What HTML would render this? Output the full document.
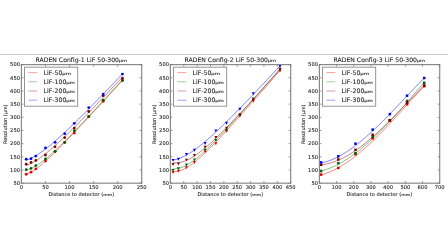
<!DOCTYPE html>
<html><head><meta charset="utf-8"><style>html,body{margin:0;padding:0;width:448px;height:252px;overflow:hidden;background:#fff}</style></head>
<body>
<svg width="448" height="252" viewBox="0 0 448 252" style="position:absolute;left:0;top:0">
<rect x="0" y="0" width="448" height="252" fill="#fff"/>
<g>
<rect x="0" y="54" width="448" height="1" fill="#cfcfcf"/>
<polyline points="26.21,174.15 27.84,173.54 29.47,172.82 31.11,171.97 32.74,171.02 34.37,169.99 36.00,168.87 37.63,167.67 39.26,166.42 40.89,165.10 42.52,163.74 44.16,162.34 45.79,160.90 47.42,159.42 49.05,157.92 50.68,156.38 52.31,154.83 53.94,153.25 55.57,151.66 57.20,150.04 58.84,148.42 60.47,146.78 62.10,145.12 63.73,143.46 65.36,141.79 66.99,140.10 68.62,138.41 70.25,136.71 71.89,135.01 73.52,133.29 75.15,131.57 76.78,129.85 78.41,128.12 80.04,126.38 81.67,124.65 83.30,122.90 84.93,121.16 86.57,119.41 88.20,117.65 89.83,115.90 91.46,114.14 93.09,112.38 94.72,110.61 96.35,108.84 97.98,107.07 99.62,105.30 101.25,103.53 102.88,101.75 104.51,99.98 106.14,98.20 107.77,96.42 109.40,94.64 111.03,92.85 112.66,91.07 114.30,89.28 115.93,87.50 117.56,85.71 119.19,83.92 120.82,82.13 122.45,80.34" fill="none" stroke="#ff0000" stroke-width="0.5"/>
<polyline points="26.21,170.08 27.84,169.64 29.47,169.09 31.11,168.42 32.74,167.65 34.37,166.79 36.00,165.85 37.63,164.82 39.26,163.72 40.89,162.56 42.52,161.35 44.16,160.08 45.79,158.76 47.42,157.40 49.05,156.01 50.68,154.58 52.31,153.11 53.94,151.63 55.57,150.11 57.20,148.58 58.84,147.02 60.47,145.45 62.10,143.86 63.73,142.25 65.36,140.63 66.99,139.00 68.62,137.35 70.25,135.70 71.89,134.03 73.52,132.35 75.15,130.67 76.78,128.98 78.41,127.28 80.04,125.57 81.67,123.86 83.30,122.15 84.93,120.42 86.57,118.69 88.20,116.96 89.83,115.22 91.46,113.48 93.09,111.74 94.72,109.99 96.35,108.23 97.98,106.48 99.62,104.72 101.25,102.96 102.88,101.19 104.51,99.42 106.14,97.66 107.77,95.88 109.40,94.11 111.03,92.33 112.66,90.55 114.30,88.77 115.93,86.99 117.56,85.21 119.19,83.42 120.82,81.64 122.45,79.85" fill="none" stroke="#008000" stroke-width="0.5"/>
<polyline points="26.21,165.48 27.84,164.88 29.47,164.18 31.11,163.40 32.74,162.55 34.37,161.62 36.00,160.62 37.63,159.57 39.26,158.46 40.89,157.30 42.52,156.09 44.16,154.84 45.79,153.55 47.42,152.22 49.05,150.86 50.68,149.47 52.31,148.06 53.94,146.62 55.57,145.16 57.20,143.68 58.84,142.17 60.47,140.65 62.10,139.12 63.73,137.57 65.36,136.01 66.99,134.43 68.62,132.84 70.25,131.24 71.89,129.63 73.52,128.01 75.15,126.39 76.78,124.75 78.41,123.11 80.04,121.46 81.67,119.80 83.30,118.14 84.93,116.47 86.57,114.80 88.20,113.12 89.83,111.43 91.46,109.74 93.09,108.05 94.72,106.35 96.35,104.65 97.98,102.95 99.62,101.24 101.25,99.53 102.88,97.82 104.51,96.10 106.14,94.38 107.77,92.66 109.40,90.93 111.03,89.20 112.66,87.47 114.30,85.74 115.93,84.01 117.56,82.27 119.19,80.54 120.82,78.80 122.45,77.06" fill="none" stroke="#8b0000" stroke-width="0.5"/>
<polyline points="26.21,160.27 27.84,159.66 29.47,158.97 31.11,158.21 32.74,157.38 34.37,156.49 36.00,155.54 37.63,154.53 39.26,153.47 40.89,152.36 42.52,151.21 44.16,150.01 45.79,148.78 47.42,147.51 49.05,146.21 50.68,144.88 52.31,143.53 53.94,142.14 55.57,140.73 57.20,139.30 58.84,137.85 60.47,136.39 62.10,134.90 63.73,133.40 65.36,131.88 66.99,130.35 68.62,128.80 70.25,127.24 71.89,125.67 73.52,124.09 75.15,122.50 76.78,120.90 78.41,119.30 80.04,117.68 81.67,116.06 83.30,114.42 84.93,112.79 86.57,111.14 88.20,109.49 89.83,107.83 91.46,106.17 93.09,104.50 94.72,102.83 96.35,101.15 97.98,99.47 99.62,97.79 101.25,96.10 102.88,94.40 104.51,92.71 106.14,91.01 107.77,89.30 109.40,87.59 111.03,85.89 112.66,84.17 114.30,82.46 115.93,80.74 117.56,79.02 119.19,77.30 120.82,75.57 122.45,73.85" fill="none" stroke="#0000ff" stroke-width="0.5"/>
<circle cx="26.21" cy="174.24" r="1.4" fill="#e00000"/>
<circle cx="31.02" cy="172.13" r="1.4" fill="#e00000"/>
<circle cx="35.84" cy="168.97" r="1.4" fill="#e00000"/>
<circle cx="45.46" cy="161.06" r="1.4" fill="#e00000"/>
<circle cx="55.08" cy="151.57" r="1.4" fill="#e00000"/>
<circle cx="64.71" cy="142.61" r="1.4" fill="#e00000"/>
<circle cx="74.33" cy="133.12" r="1.4" fill="#e00000"/>
<circle cx="88.77" cy="116.78" r="1.4" fill="#e00000"/>
<circle cx="103.20" cy="101.23" r="1.4" fill="#e00000"/>
<circle cx="122.45" cy="80.41" r="1.4" fill="#e00000"/>
<circle cx="26.21" cy="169.63" r="1.4" fill="#006000"/>
<circle cx="31.02" cy="168.44" r="1.4" fill="#006000"/>
<circle cx="35.84" cy="165.54" r="1.4" fill="#006000"/>
<circle cx="45.46" cy="158.95" r="1.4" fill="#006000"/>
<circle cx="55.08" cy="151.31" r="1.4" fill="#006000"/>
<circle cx="64.71" cy="142.35" r="1.4" fill="#006000"/>
<circle cx="74.33" cy="130.75" r="1.4" fill="#006000"/>
<circle cx="88.77" cy="116.52" r="1.4" fill="#006000"/>
<circle cx="103.20" cy="100.18" r="1.4" fill="#006000"/>
<circle cx="122.45" cy="80.15" r="1.4" fill="#006000"/>
<circle cx="26.21" cy="164.22" r="1.4" fill="#800000"/>
<circle cx="31.02" cy="162.38" r="1.4" fill="#800000"/>
<circle cx="35.84" cy="160.40" r="1.4" fill="#800000"/>
<circle cx="45.46" cy="155.00" r="1.4" fill="#800000"/>
<circle cx="55.08" cy="146.83" r="1.4" fill="#800000"/>
<circle cx="64.71" cy="137.60" r="1.4" fill="#800000"/>
<circle cx="74.33" cy="128.12" r="1.4" fill="#800000"/>
<circle cx="88.77" cy="111.51" r="1.4" fill="#800000"/>
<circle cx="103.20" cy="95.70" r="1.4" fill="#800000"/>
<circle cx="122.45" cy="78.04" r="1.4" fill="#800000"/>
<circle cx="26.21" cy="159.22" r="1.4" fill="#0000e8"/>
<circle cx="31.02" cy="158.69" r="1.4" fill="#0000e8"/>
<circle cx="35.84" cy="156.05" r="1.4" fill="#0000e8"/>
<circle cx="45.46" cy="147.88" r="1.4" fill="#0000e8"/>
<circle cx="55.08" cy="142.35" r="1.4" fill="#0000e8"/>
<circle cx="64.71" cy="133.65" r="1.4" fill="#0000e8"/>
<circle cx="74.33" cy="123.37" r="1.4" fill="#0000e8"/>
<circle cx="88.77" cy="107.56" r="1.4" fill="#0000e8"/>
<circle cx="103.20" cy="94.12" r="1.4" fill="#0000e8"/>
<circle cx="122.45" cy="74.09" r="1.4" fill="#0000e8"/>
<rect x="21.40" y="64.60" width="120.30" height="118.60" fill="none" stroke="#8a8a8a" stroke-width="1.2"/>
<line x1="21.40" y1="183.20" x2="21.40" y2="181.20" stroke="#777" stroke-width="0.8"/>
<line x1="21.40" y1="64.60" x2="21.40" y2="66.60" stroke="#777" stroke-width="0.8"/>
<text x="21.40" y="189.40" font-family="DejaVu Sans, Liberation Sans, sans-serif" font-size="5.2" text-anchor="middle" fill="#222" stroke="#222" stroke-width="0.09" >0</text>
<line x1="45.46" y1="183.20" x2="45.46" y2="181.20" stroke="#777" stroke-width="0.8"/>
<line x1="45.46" y1="64.60" x2="45.46" y2="66.60" stroke="#777" stroke-width="0.8"/>
<text x="45.46" y="189.40" font-family="DejaVu Sans, Liberation Sans, sans-serif" font-size="5.2" text-anchor="middle" fill="#222" stroke="#222" stroke-width="0.09" >50</text>
<line x1="69.52" y1="183.20" x2="69.52" y2="181.20" stroke="#777" stroke-width="0.8"/>
<line x1="69.52" y1="64.60" x2="69.52" y2="66.60" stroke="#777" stroke-width="0.8"/>
<text x="69.52" y="189.40" font-family="DejaVu Sans, Liberation Sans, sans-serif" font-size="5.2" text-anchor="middle" fill="#222" stroke="#222" stroke-width="0.09" >100</text>
<line x1="93.58" y1="183.20" x2="93.58" y2="181.20" stroke="#777" stroke-width="0.8"/>
<line x1="93.58" y1="64.60" x2="93.58" y2="66.60" stroke="#777" stroke-width="0.8"/>
<text x="93.58" y="189.40" font-family="DejaVu Sans, Liberation Sans, sans-serif" font-size="5.2" text-anchor="middle" fill="#222" stroke="#222" stroke-width="0.09" >150</text>
<line x1="117.64" y1="183.20" x2="117.64" y2="181.20" stroke="#777" stroke-width="0.8"/>
<line x1="117.64" y1="64.60" x2="117.64" y2="66.60" stroke="#777" stroke-width="0.8"/>
<text x="117.64" y="189.40" font-family="DejaVu Sans, Liberation Sans, sans-serif" font-size="5.2" text-anchor="middle" fill="#222" stroke="#222" stroke-width="0.09" >200</text>
<line x1="141.70" y1="183.20" x2="141.70" y2="181.20" stroke="#777" stroke-width="0.8"/>
<line x1="141.70" y1="64.60" x2="141.70" y2="66.60" stroke="#777" stroke-width="0.8"/>
<text x="141.70" y="189.40" font-family="DejaVu Sans, Liberation Sans, sans-serif" font-size="5.2" text-anchor="middle" fill="#222" stroke="#222" stroke-width="0.09" >250</text>
<line x1="21.40" y1="183.20" x2="23.40" y2="183.20" stroke="#777" stroke-width="0.8"/>
<line x1="141.70" y1="183.20" x2="139.70" y2="183.20" stroke="#777" stroke-width="0.8"/>
<text x="20.00" y="184.95" font-family="DejaVu Sans, Liberation Sans, sans-serif" font-size="5.2" text-anchor="end" fill="#222" stroke="#222" stroke-width="0.09" >50</text>
<line x1="21.40" y1="170.02" x2="23.40" y2="170.02" stroke="#777" stroke-width="0.8"/>
<line x1="141.70" y1="170.02" x2="139.70" y2="170.02" stroke="#777" stroke-width="0.8"/>
<text x="20.00" y="171.77" font-family="DejaVu Sans, Liberation Sans, sans-serif" font-size="5.2" text-anchor="end" fill="#222" stroke="#222" stroke-width="0.09" >100</text>
<line x1="21.40" y1="156.84" x2="23.40" y2="156.84" stroke="#777" stroke-width="0.8"/>
<line x1="141.70" y1="156.84" x2="139.70" y2="156.84" stroke="#777" stroke-width="0.8"/>
<text x="20.00" y="158.59" font-family="DejaVu Sans, Liberation Sans, sans-serif" font-size="5.2" text-anchor="end" fill="#222" stroke="#222" stroke-width="0.09" >150</text>
<line x1="21.40" y1="143.67" x2="23.40" y2="143.67" stroke="#777" stroke-width="0.8"/>
<line x1="141.70" y1="143.67" x2="139.70" y2="143.67" stroke="#777" stroke-width="0.8"/>
<text x="20.00" y="145.42" font-family="DejaVu Sans, Liberation Sans, sans-serif" font-size="5.2" text-anchor="end" fill="#222" stroke="#222" stroke-width="0.09" >200</text>
<line x1="21.40" y1="130.49" x2="23.40" y2="130.49" stroke="#777" stroke-width="0.8"/>
<line x1="141.70" y1="130.49" x2="139.70" y2="130.49" stroke="#777" stroke-width="0.8"/>
<text x="20.00" y="132.24" font-family="DejaVu Sans, Liberation Sans, sans-serif" font-size="5.2" text-anchor="end" fill="#222" stroke="#222" stroke-width="0.09" >250</text>
<line x1="21.40" y1="117.31" x2="23.40" y2="117.31" stroke="#777" stroke-width="0.8"/>
<line x1="141.70" y1="117.31" x2="139.70" y2="117.31" stroke="#777" stroke-width="0.8"/>
<text x="20.00" y="119.06" font-family="DejaVu Sans, Liberation Sans, sans-serif" font-size="5.2" text-anchor="end" fill="#222" stroke="#222" stroke-width="0.09" >300</text>
<line x1="21.40" y1="104.13" x2="23.40" y2="104.13" stroke="#777" stroke-width="0.8"/>
<line x1="141.70" y1="104.13" x2="139.70" y2="104.13" stroke="#777" stroke-width="0.8"/>
<text x="20.00" y="105.88" font-family="DejaVu Sans, Liberation Sans, sans-serif" font-size="5.2" text-anchor="end" fill="#222" stroke="#222" stroke-width="0.09" >350</text>
<line x1="21.40" y1="90.96" x2="23.40" y2="90.96" stroke="#777" stroke-width="0.8"/>
<line x1="141.70" y1="90.96" x2="139.70" y2="90.96" stroke="#777" stroke-width="0.8"/>
<text x="20.00" y="92.71" font-family="DejaVu Sans, Liberation Sans, sans-serif" font-size="5.2" text-anchor="end" fill="#222" stroke="#222" stroke-width="0.09" >400</text>
<line x1="21.40" y1="77.78" x2="23.40" y2="77.78" stroke="#777" stroke-width="0.8"/>
<line x1="141.70" y1="77.78" x2="139.70" y2="77.78" stroke="#777" stroke-width="0.8"/>
<text x="20.00" y="79.53" font-family="DejaVu Sans, Liberation Sans, sans-serif" font-size="5.2" text-anchor="end" fill="#222" stroke="#222" stroke-width="0.09" >450</text>
<line x1="21.40" y1="64.60" x2="23.40" y2="64.60" stroke="#777" stroke-width="0.8"/>
<line x1="141.70" y1="64.60" x2="139.70" y2="64.60" stroke="#777" stroke-width="0.8"/>
<text x="20.00" y="66.35" font-family="DejaVu Sans, Liberation Sans, sans-serif" font-size="5.2" text-anchor="end" fill="#222" stroke="#222" stroke-width="0.09" >500</text>
<text x="35.50" y="62.40" font-family="DejaVu Sans, Liberation Sans, sans-serif" font-size="6.15" text-anchor="start" fill="#222" stroke="#222" stroke-width="0.09" >RADEN Config-1 LiF 50-300</text>
<text x="118.70" y="62.30" font-family="DejaVu Sans, Liberation Sans, sans-serif" font-size="3.9" text-anchor="start" fill="#222" stroke="#222" stroke-width="0.09" textLength="8.4" lengthAdjust="spacingAndGlyphs">μm</text>
<text x="48.40" y="196.00" font-family="DejaVu Sans, Liberation Sans, sans-serif" font-size="5.0" text-anchor="start" fill="#222" stroke="#222" stroke-width="0.09" >Distance to detector (</text>
<text x="103.30" y="196.00" font-family="DejaVu Sans, Liberation Sans, sans-serif" font-size="3.6" text-anchor="start" fill="#222" stroke="#222" stroke-width="0.09" textLength="8.9" lengthAdjust="spacingAndGlyphs">mm</text>
<text x="112.30" y="196.00" font-family="DejaVu Sans, Liberation Sans, sans-serif" font-size="5.0" text-anchor="start" fill="#222" stroke="#222" stroke-width="0.09" >)</text>
<g transform="translate(7.20,0) rotate(-90)">
<text x="-144.00" y="0.00" font-family="DejaVu Sans, Liberation Sans, sans-serif" font-size="5" text-anchor="start" fill="#222" stroke="#222" stroke-width="0.09" >Resolution (</text>
<text x="-114.00" y="0.00" font-family="DejaVu Sans, Liberation Sans, sans-serif" font-size="4.6" text-anchor="start" fill="#222" stroke="#222" stroke-width="0.09" textLength="7.6" lengthAdjust="spacingAndGlyphs">μm</text>
<text x="-106.40" y="0.00" font-family="DejaVu Sans, Liberation Sans, sans-serif" font-size="5" text-anchor="start" fill="#222" stroke="#222" stroke-width="0.09" >)</text>
</g>
<rect x="24.50" y="67.20" width="53.20" height="39.00" fill="#fff" stroke="#8a8a8a" stroke-width="0.9"/>
<line x1="28.50" y1="72.60" x2="37.30" y2="72.60" stroke="#ff0000" stroke-width="0.38"/>
<text x="43.60" y="74.60" font-family="DejaVu Sans, Liberation Sans, sans-serif" font-size="6.2" text-anchor="start" fill="#222" stroke="#222" stroke-width="0.09" >LiF-50</text>
<text x="62.30" y="74.60" font-family="DejaVu Sans, Liberation Sans, sans-serif" font-size="3.9" text-anchor="start" fill="#222" stroke="#222" stroke-width="0.09" textLength="8.7" lengthAdjust="spacingAndGlyphs">μm</text>
<line x1="28.50" y1="81.80" x2="37.30" y2="81.80" stroke="#008000" stroke-width="0.38"/>
<text x="43.60" y="83.80" font-family="DejaVu Sans, Liberation Sans, sans-serif" font-size="6.2" text-anchor="start" fill="#222" stroke="#222" stroke-width="0.09" >LiF-100</text>
<text x="66.20" y="83.80" font-family="DejaVu Sans, Liberation Sans, sans-serif" font-size="3.9" text-anchor="start" fill="#222" stroke="#222" stroke-width="0.09" textLength="8.7" lengthAdjust="spacingAndGlyphs">μm</text>
<line x1="28.50" y1="91.00" x2="37.30" y2="91.00" stroke="#8b0000" stroke-width="0.38"/>
<text x="43.60" y="93.00" font-family="DejaVu Sans, Liberation Sans, sans-serif" font-size="6.2" text-anchor="start" fill="#222" stroke="#222" stroke-width="0.09" >LiF-200</text>
<text x="66.20" y="93.00" font-family="DejaVu Sans, Liberation Sans, sans-serif" font-size="3.9" text-anchor="start" fill="#222" stroke="#222" stroke-width="0.09" textLength="8.7" lengthAdjust="spacingAndGlyphs">μm</text>
<line x1="28.50" y1="100.20" x2="37.30" y2="100.20" stroke="#0000ff" stroke-width="0.38"/>
<text x="43.60" y="102.20" font-family="DejaVu Sans, Liberation Sans, sans-serif" font-size="6.2" text-anchor="start" fill="#222" stroke="#222" stroke-width="0.09" >LiF-300</text>
<text x="66.20" y="102.20" font-family="DejaVu Sans, Liberation Sans, sans-serif" font-size="3.9" text-anchor="start" fill="#222" stroke="#222" stroke-width="0.09" textLength="8.7" lengthAdjust="spacingAndGlyphs">μm</text>
<polyline points="173.07,171.36 174.89,171.42 176.70,171.31 178.51,171.01 180.32,170.55 182.14,169.92 183.95,169.14 185.76,168.23 187.57,167.19 189.39,166.03 191.20,164.78 193.01,163.43 194.82,162.01 196.63,160.52 198.45,158.97 200.26,157.37 202.07,155.71 203.88,154.02 205.70,152.29 207.51,150.53 209.32,148.73 211.13,146.92 212.95,145.07 214.76,143.21 216.57,141.33 218.38,139.43 220.20,137.52 222.01,135.60 223.82,133.66 225.63,131.71 227.45,129.75 229.26,127.78 231.07,125.80 232.88,123.81 234.70,121.82 236.51,119.82 238.32,117.81 240.13,115.80 241.95,113.78 243.76,111.76 245.57,109.73 247.38,107.70 249.20,105.66 251.01,103.62 252.82,101.58 254.63,99.53 256.45,97.48 258.26,95.43 260.07,93.37 261.88,91.32 263.69,89.26 265.51,87.19 267.32,85.13 269.13,83.06 270.94,80.99 272.76,78.92 274.57,76.85 276.38,74.78 278.19,72.70 280.01,70.63" fill="none" stroke="#ff0000" stroke-width="0.5"/>
<polyline points="173.07,168.86 174.89,168.86 176.70,168.70 178.51,168.38 180.32,167.91 182.14,167.28 183.95,166.52 185.76,165.62 187.57,164.61 189.39,163.50 191.20,162.28 193.01,160.98 194.82,159.61 196.63,158.16 198.45,156.66 200.26,155.09 202.07,153.48 203.88,151.83 205.70,150.14 207.51,148.41 209.32,146.65 211.13,144.87 212.95,143.06 214.76,141.23 216.57,139.37 218.38,137.50 220.20,135.61 222.01,133.71 223.82,131.79 225.63,129.86 227.45,127.91 229.26,125.96 231.07,124.00 232.88,122.03 234.70,120.05 236.51,118.06 238.32,116.06 240.13,114.06 241.95,112.05 243.76,110.04 245.57,108.02 247.38,106.00 249.20,103.97 251.01,101.94 252.82,99.90 254.63,97.86 256.45,95.81 258.26,93.77 260.07,91.72 261.88,89.66 263.69,87.61 265.51,85.55 267.32,83.48 269.13,81.42 270.94,79.35 272.76,77.29 274.57,75.21 276.38,73.14 278.19,71.07 280.01,68.99" fill="none" stroke="#008000" stroke-width="0.5"/>
<polyline points="173.07,162.79 174.89,162.88 176.70,162.83 178.51,162.65 180.32,162.34 182.14,161.90 183.95,161.33 185.76,160.65 187.57,159.86 189.39,158.97 191.20,157.98 193.01,156.90 194.82,155.73 196.63,154.50 198.45,153.19 200.26,151.82 202.07,150.40 203.88,148.92 205.70,147.39 207.51,145.83 209.32,144.22 211.13,142.58 212.95,140.90 214.76,139.20 216.57,137.47 218.38,135.71 220.20,133.93 222.01,132.13 223.82,130.31 225.63,128.48 227.45,126.62 229.26,124.76 231.07,122.88 232.88,120.98 234.70,119.08 236.51,117.16 238.32,115.24 240.13,113.30 241.95,111.35 243.76,109.40 245.57,107.44 247.38,105.47 249.20,103.50 251.01,101.52 252.82,99.53 254.63,97.54 256.45,95.54 258.26,93.54 260.07,91.53 261.88,89.52 263.69,87.51 265.51,85.49 267.32,83.46 269.13,81.44 270.94,79.41 272.76,77.37 274.57,75.34 276.38,73.30 278.19,71.26 280.01,69.21" fill="none" stroke="#8b0000" stroke-width="0.5"/>
<polyline points="173.07,160.08 174.89,159.72 176.70,159.26 178.51,158.69 180.32,158.02 182.14,157.25 183.95,156.40 185.76,155.46 187.57,154.44 189.39,153.36 191.20,152.20 193.01,150.99 194.82,149.71 196.63,148.39 198.45,147.01 200.26,145.60 202.07,144.14 203.88,142.64 205.70,141.11 207.51,139.55 209.32,137.96 211.13,136.34 212.95,134.70 214.76,133.03 216.57,131.35 218.38,129.64 220.20,127.92 222.01,126.18 223.82,124.42 225.63,122.65 227.45,120.87 229.26,119.07 231.07,117.27 232.88,115.45 234.70,113.62 236.51,111.78 238.32,109.94 240.13,108.08 241.95,106.22 243.76,104.35 245.57,102.47 247.38,100.59 249.20,98.70 251.01,96.81 252.82,94.91 254.63,93.00 256.45,91.09 258.26,89.18 260.07,87.26 261.88,85.34 263.69,83.41 265.51,81.48 267.32,79.55 269.13,77.61 270.94,75.67 272.76,73.73 274.57,71.78 276.38,69.83 278.19,67.88 280.01,65.93" fill="none" stroke="#0000ff" stroke-width="0.5"/>
<path d="M171.57,171.03L174.57,171.03L173.07,173.93Z" fill="#e00000"/>
<path d="M176.92,169.77L179.92,169.77L178.42,172.67Z" fill="#e00000"/>
<path d="M184.94,166.18L187.94,166.18L186.44,169.08Z" fill="#e00000"/>
<path d="M192.96,161.12L195.96,161.12L194.46,164.02Z" fill="#e00000"/>
<path d="M203.65,150.47L206.65,150.47L205.15,153.37Z" fill="#e00000"/>
<path d="M214.35,142.30L217.35,142.30L215.85,145.20Z" fill="#e00000"/>
<path d="M225.04,129.92L228.04,129.92L226.54,132.82Z" fill="#e00000"/>
<path d="M238.41,114.63L241.41,114.63L239.91,117.53Z" fill="#e00000"/>
<path d="M251.77,99.87L254.77,99.87L253.27,102.77Z" fill="#e00000"/>
<path d="M278.51,69.56L281.51,69.56L280.01,72.46Z" fill="#e00000"/>
<path d="M171.57,168.92L174.57,168.92L173.07,171.82Z" fill="#006000"/>
<path d="M176.92,167.18L179.92,167.18L178.42,170.08Z" fill="#006000"/>
<path d="M184.94,163.52L187.94,163.52L186.44,166.42Z" fill="#006000"/>
<path d="M192.96,158.38L195.96,158.38L194.46,161.28Z" fill="#006000"/>
<path d="M203.65,148.63L206.65,148.63L205.15,151.53Z" fill="#006000"/>
<path d="M214.35,138.88L217.35,138.88L215.85,141.78Z" fill="#006000"/>
<path d="M225.04,128.86L228.04,128.86L226.54,131.76Z" fill="#006000"/>
<path d="M238.41,113.84L241.41,113.84L239.91,116.74Z" fill="#006000"/>
<path d="M251.77,97.50L254.77,97.50L253.27,100.40Z" fill="#006000"/>
<path d="M278.51,67.98L281.51,67.98L280.01,70.88Z" fill="#006000"/>
<path d="M171.57,162.99L174.57,162.99L173.07,165.89Z" fill="#800000"/>
<path d="M176.92,162.52L179.92,162.52L178.42,165.42Z" fill="#800000"/>
<path d="M184.94,158.64L187.94,158.64L186.44,161.54Z" fill="#800000"/>
<path d="M192.96,153.90L195.96,153.90L194.46,156.80Z" fill="#800000"/>
<path d="M203.65,145.73L206.65,145.73L205.15,148.63Z" fill="#800000"/>
<path d="M214.35,135.98L217.35,135.98L215.85,138.88Z" fill="#800000"/>
<path d="M225.04,126.75L228.04,126.75L226.54,129.65Z" fill="#800000"/>
<path d="M238.41,113.31L241.41,113.31L239.91,116.21Z" fill="#800000"/>
<path d="M251.77,98.55L254.77,98.55L253.27,101.45Z" fill="#800000"/>
<path d="M278.51,67.72L281.51,67.72L280.01,70.62Z" fill="#800000"/>
<path d="M171.57,158.91L174.57,158.91L173.07,161.81Z" fill="#0000e8"/>
<path d="M176.92,157.85L179.92,157.85L178.42,160.75Z" fill="#0000e8"/>
<path d="M184.94,153.11L187.94,153.11L186.44,156.01Z" fill="#0000e8"/>
<path d="M192.96,148.79L195.96,148.79L194.46,151.69Z" fill="#0000e8"/>
<path d="M203.65,142.04L206.65,142.04L205.15,144.94Z" fill="#0000e8"/>
<path d="M214.35,129.39L217.35,129.39L215.85,132.29Z" fill="#0000e8"/>
<path d="M225.04,121.75L228.04,121.75L226.54,124.65Z" fill="#0000e8"/>
<path d="M238.41,107.78L241.41,107.78L239.91,110.68Z" fill="#0000e8"/>
<path d="M251.77,92.23L254.77,92.23L253.27,95.13Z" fill="#0000e8"/>
<path d="M278.51,65.08L281.51,65.08L280.01,67.98Z" fill="#0000e8"/>
<rect x="170.40" y="64.60" width="120.30" height="118.60" fill="none" stroke="#8a8a8a" stroke-width="1.2"/>
<line x1="170.40" y1="183.20" x2="170.40" y2="181.20" stroke="#777" stroke-width="0.8"/>
<line x1="170.40" y1="64.60" x2="170.40" y2="66.60" stroke="#777" stroke-width="0.8"/>
<text x="170.40" y="189.40" font-family="DejaVu Sans, Liberation Sans, sans-serif" font-size="5.2" text-anchor="middle" fill="#222" stroke="#222" stroke-width="0.09" >0</text>
<line x1="183.77" y1="183.20" x2="183.77" y2="181.20" stroke="#777" stroke-width="0.8"/>
<line x1="183.77" y1="64.60" x2="183.77" y2="66.60" stroke="#777" stroke-width="0.8"/>
<text x="183.77" y="189.40" font-family="DejaVu Sans, Liberation Sans, sans-serif" font-size="5.2" text-anchor="middle" fill="#222" stroke="#222" stroke-width="0.09" >50</text>
<line x1="197.13" y1="183.20" x2="197.13" y2="181.20" stroke="#777" stroke-width="0.8"/>
<line x1="197.13" y1="64.60" x2="197.13" y2="66.60" stroke="#777" stroke-width="0.8"/>
<text x="197.13" y="189.40" font-family="DejaVu Sans, Liberation Sans, sans-serif" font-size="5.2" text-anchor="middle" fill="#222" stroke="#222" stroke-width="0.09" >100</text>
<line x1="210.50" y1="183.20" x2="210.50" y2="181.20" stroke="#777" stroke-width="0.8"/>
<line x1="210.50" y1="64.60" x2="210.50" y2="66.60" stroke="#777" stroke-width="0.8"/>
<text x="210.50" y="189.40" font-family="DejaVu Sans, Liberation Sans, sans-serif" font-size="5.2" text-anchor="middle" fill="#222" stroke="#222" stroke-width="0.09" >150</text>
<line x1="223.87" y1="183.20" x2="223.87" y2="181.20" stroke="#777" stroke-width="0.8"/>
<line x1="223.87" y1="64.60" x2="223.87" y2="66.60" stroke="#777" stroke-width="0.8"/>
<text x="223.87" y="189.40" font-family="DejaVu Sans, Liberation Sans, sans-serif" font-size="5.2" text-anchor="middle" fill="#222" stroke="#222" stroke-width="0.09" >200</text>
<line x1="237.23" y1="183.20" x2="237.23" y2="181.20" stroke="#777" stroke-width="0.8"/>
<line x1="237.23" y1="64.60" x2="237.23" y2="66.60" stroke="#777" stroke-width="0.8"/>
<text x="237.23" y="189.40" font-family="DejaVu Sans, Liberation Sans, sans-serif" font-size="5.2" text-anchor="middle" fill="#222" stroke="#222" stroke-width="0.09" >250</text>
<line x1="250.60" y1="183.20" x2="250.60" y2="181.20" stroke="#777" stroke-width="0.8"/>
<line x1="250.60" y1="64.60" x2="250.60" y2="66.60" stroke="#777" stroke-width="0.8"/>
<text x="250.60" y="189.40" font-family="DejaVu Sans, Liberation Sans, sans-serif" font-size="5.2" text-anchor="middle" fill="#222" stroke="#222" stroke-width="0.09" >300</text>
<line x1="263.97" y1="183.20" x2="263.97" y2="181.20" stroke="#777" stroke-width="0.8"/>
<line x1="263.97" y1="64.60" x2="263.97" y2="66.60" stroke="#777" stroke-width="0.8"/>
<text x="263.97" y="189.40" font-family="DejaVu Sans, Liberation Sans, sans-serif" font-size="5.2" text-anchor="middle" fill="#222" stroke="#222" stroke-width="0.09" >350</text>
<line x1="277.33" y1="183.20" x2="277.33" y2="181.20" stroke="#777" stroke-width="0.8"/>
<line x1="277.33" y1="64.60" x2="277.33" y2="66.60" stroke="#777" stroke-width="0.8"/>
<text x="277.33" y="189.40" font-family="DejaVu Sans, Liberation Sans, sans-serif" font-size="5.2" text-anchor="middle" fill="#222" stroke="#222" stroke-width="0.09" >400</text>
<line x1="290.70" y1="183.20" x2="290.70" y2="181.20" stroke="#777" stroke-width="0.8"/>
<line x1="290.70" y1="64.60" x2="290.70" y2="66.60" stroke="#777" stroke-width="0.8"/>
<text x="290.70" y="189.40" font-family="DejaVu Sans, Liberation Sans, sans-serif" font-size="5.2" text-anchor="middle" fill="#222" stroke="#222" stroke-width="0.09" >450</text>
<line x1="170.40" y1="183.20" x2="172.40" y2="183.20" stroke="#777" stroke-width="0.8"/>
<line x1="290.70" y1="183.20" x2="288.70" y2="183.20" stroke="#777" stroke-width="0.8"/>
<text x="169.00" y="184.95" font-family="DejaVu Sans, Liberation Sans, sans-serif" font-size="5.2" text-anchor="end" fill="#222" stroke="#222" stroke-width="0.09" >50</text>
<line x1="170.40" y1="170.02" x2="172.40" y2="170.02" stroke="#777" stroke-width="0.8"/>
<line x1="290.70" y1="170.02" x2="288.70" y2="170.02" stroke="#777" stroke-width="0.8"/>
<text x="169.00" y="171.77" font-family="DejaVu Sans, Liberation Sans, sans-serif" font-size="5.2" text-anchor="end" fill="#222" stroke="#222" stroke-width="0.09" >100</text>
<line x1="170.40" y1="156.84" x2="172.40" y2="156.84" stroke="#777" stroke-width="0.8"/>
<line x1="290.70" y1="156.84" x2="288.70" y2="156.84" stroke="#777" stroke-width="0.8"/>
<text x="169.00" y="158.59" font-family="DejaVu Sans, Liberation Sans, sans-serif" font-size="5.2" text-anchor="end" fill="#222" stroke="#222" stroke-width="0.09" >150</text>
<line x1="170.40" y1="143.67" x2="172.40" y2="143.67" stroke="#777" stroke-width="0.8"/>
<line x1="290.70" y1="143.67" x2="288.70" y2="143.67" stroke="#777" stroke-width="0.8"/>
<text x="169.00" y="145.42" font-family="DejaVu Sans, Liberation Sans, sans-serif" font-size="5.2" text-anchor="end" fill="#222" stroke="#222" stroke-width="0.09" >200</text>
<line x1="170.40" y1="130.49" x2="172.40" y2="130.49" stroke="#777" stroke-width="0.8"/>
<line x1="290.70" y1="130.49" x2="288.70" y2="130.49" stroke="#777" stroke-width="0.8"/>
<text x="169.00" y="132.24" font-family="DejaVu Sans, Liberation Sans, sans-serif" font-size="5.2" text-anchor="end" fill="#222" stroke="#222" stroke-width="0.09" >250</text>
<line x1="170.40" y1="117.31" x2="172.40" y2="117.31" stroke="#777" stroke-width="0.8"/>
<line x1="290.70" y1="117.31" x2="288.70" y2="117.31" stroke="#777" stroke-width="0.8"/>
<text x="169.00" y="119.06" font-family="DejaVu Sans, Liberation Sans, sans-serif" font-size="5.2" text-anchor="end" fill="#222" stroke="#222" stroke-width="0.09" >300</text>
<line x1="170.40" y1="104.13" x2="172.40" y2="104.13" stroke="#777" stroke-width="0.8"/>
<line x1="290.70" y1="104.13" x2="288.70" y2="104.13" stroke="#777" stroke-width="0.8"/>
<text x="169.00" y="105.88" font-family="DejaVu Sans, Liberation Sans, sans-serif" font-size="5.2" text-anchor="end" fill="#222" stroke="#222" stroke-width="0.09" >350</text>
<line x1="170.40" y1="90.96" x2="172.40" y2="90.96" stroke="#777" stroke-width="0.8"/>
<line x1="290.70" y1="90.96" x2="288.70" y2="90.96" stroke="#777" stroke-width="0.8"/>
<text x="169.00" y="92.71" font-family="DejaVu Sans, Liberation Sans, sans-serif" font-size="5.2" text-anchor="end" fill="#222" stroke="#222" stroke-width="0.09" >400</text>
<line x1="170.40" y1="77.78" x2="172.40" y2="77.78" stroke="#777" stroke-width="0.8"/>
<line x1="290.70" y1="77.78" x2="288.70" y2="77.78" stroke="#777" stroke-width="0.8"/>
<text x="169.00" y="79.53" font-family="DejaVu Sans, Liberation Sans, sans-serif" font-size="5.2" text-anchor="end" fill="#222" stroke="#222" stroke-width="0.09" >450</text>
<line x1="170.40" y1="64.60" x2="172.40" y2="64.60" stroke="#777" stroke-width="0.8"/>
<line x1="290.70" y1="64.60" x2="288.70" y2="64.60" stroke="#777" stroke-width="0.8"/>
<text x="169.00" y="66.35" font-family="DejaVu Sans, Liberation Sans, sans-serif" font-size="5.2" text-anchor="end" fill="#222" stroke="#222" stroke-width="0.09" >500</text>
<text x="184.50" y="62.40" font-family="DejaVu Sans, Liberation Sans, sans-serif" font-size="6.15" text-anchor="start" fill="#222" stroke="#222" stroke-width="0.09" >RADEN Config-2 LiF 50-300</text>
<text x="267.70" y="62.30" font-family="DejaVu Sans, Liberation Sans, sans-serif" font-size="3.9" text-anchor="start" fill="#222" stroke="#222" stroke-width="0.09" textLength="8.4" lengthAdjust="spacingAndGlyphs">μm</text>
<text x="197.40" y="196.00" font-family="DejaVu Sans, Liberation Sans, sans-serif" font-size="5.0" text-anchor="start" fill="#222" stroke="#222" stroke-width="0.09" >Distance to detector (</text>
<text x="252.30" y="196.00" font-family="DejaVu Sans, Liberation Sans, sans-serif" font-size="3.6" text-anchor="start" fill="#222" stroke="#222" stroke-width="0.09" textLength="8.9" lengthAdjust="spacingAndGlyphs">mm</text>
<text x="261.30" y="196.00" font-family="DejaVu Sans, Liberation Sans, sans-serif" font-size="5.0" text-anchor="start" fill="#222" stroke="#222" stroke-width="0.09" >)</text>
<g transform="translate(156.20,0) rotate(-90)">
<text x="-144.00" y="0.00" font-family="DejaVu Sans, Liberation Sans, sans-serif" font-size="5" text-anchor="start" fill="#222" stroke="#222" stroke-width="0.09" >Resolution (</text>
<text x="-114.00" y="0.00" font-family="DejaVu Sans, Liberation Sans, sans-serif" font-size="4.6" text-anchor="start" fill="#222" stroke="#222" stroke-width="0.09" textLength="7.6" lengthAdjust="spacingAndGlyphs">μm</text>
<text x="-106.40" y="0.00" font-family="DejaVu Sans, Liberation Sans, sans-serif" font-size="5" text-anchor="start" fill="#222" stroke="#222" stroke-width="0.09" >)</text>
</g>
<rect x="173.50" y="67.20" width="53.20" height="39.00" fill="#fff" stroke="#8a8a8a" stroke-width="0.9"/>
<line x1="177.50" y1="72.60" x2="186.30" y2="72.60" stroke="#ff0000" stroke-width="0.38"/>
<text x="192.60" y="74.60" font-family="DejaVu Sans, Liberation Sans, sans-serif" font-size="6.2" text-anchor="start" fill="#222" stroke="#222" stroke-width="0.09" >LiF-50</text>
<text x="211.30" y="74.60" font-family="DejaVu Sans, Liberation Sans, sans-serif" font-size="3.9" text-anchor="start" fill="#222" stroke="#222" stroke-width="0.09" textLength="8.7" lengthAdjust="spacingAndGlyphs">μm</text>
<line x1="177.50" y1="81.80" x2="186.30" y2="81.80" stroke="#008000" stroke-width="0.38"/>
<text x="192.60" y="83.80" font-family="DejaVu Sans, Liberation Sans, sans-serif" font-size="6.2" text-anchor="start" fill="#222" stroke="#222" stroke-width="0.09" >LiF-100</text>
<text x="215.20" y="83.80" font-family="DejaVu Sans, Liberation Sans, sans-serif" font-size="3.9" text-anchor="start" fill="#222" stroke="#222" stroke-width="0.09" textLength="8.7" lengthAdjust="spacingAndGlyphs">μm</text>
<line x1="177.50" y1="91.00" x2="186.30" y2="91.00" stroke="#8b0000" stroke-width="0.38"/>
<text x="192.60" y="93.00" font-family="DejaVu Sans, Liberation Sans, sans-serif" font-size="6.2" text-anchor="start" fill="#222" stroke="#222" stroke-width="0.09" >LiF-200</text>
<text x="215.20" y="93.00" font-family="DejaVu Sans, Liberation Sans, sans-serif" font-size="3.9" text-anchor="start" fill="#222" stroke="#222" stroke-width="0.09" textLength="8.7" lengthAdjust="spacingAndGlyphs">μm</text>
<line x1="177.50" y1="100.20" x2="186.30" y2="100.20" stroke="#0000ff" stroke-width="0.38"/>
<text x="192.60" y="102.20" font-family="DejaVu Sans, Liberation Sans, sans-serif" font-size="6.2" text-anchor="start" fill="#222" stroke="#222" stroke-width="0.09" >LiF-300</text>
<text x="215.20" y="102.20" font-family="DejaVu Sans, Liberation Sans, sans-serif" font-size="3.9" text-anchor="start" fill="#222" stroke="#222" stroke-width="0.09" textLength="8.7" lengthAdjust="spacingAndGlyphs">μm</text>
<polyline points="321.12,174.80 322.87,174.34 324.61,173.81 326.36,173.22 328.11,172.58 329.86,171.89 331.60,171.14 333.35,170.33 335.10,169.48 336.85,168.57 338.60,167.62 340.34,166.62 342.09,165.57 343.84,164.48 345.59,163.34 347.33,162.16 349.08,160.94 350.83,159.68 352.58,158.37 354.32,157.03 356.07,155.66 357.82,154.24 359.57,152.80 361.32,151.32 363.06,149.81 364.81,148.26 366.56,146.69 368.31,145.09 370.05,143.46 371.80,141.81 373.55,140.13 375.30,138.43 377.04,136.70 378.79,134.96 380.54,133.19 382.29,131.41 384.04,129.60 385.78,127.79 387.53,125.95 389.28,124.11 391.03,122.25 392.77,120.38 394.52,118.50 396.27,116.61 398.02,114.71 399.77,112.81 401.51,110.90 403.26,108.98 405.01,107.07 406.76,105.15 408.50,103.23 410.25,101.31 412.00,99.40 413.75,97.49 415.49,95.58 417.24,93.68 418.99,91.78 420.74,89.89 422.49,88.01 424.23,86.15" fill="none" stroke="#ff0000" stroke-width="0.5"/>
<polyline points="321.12,170.93 322.87,170.49 324.61,169.99 326.36,169.44 328.11,168.84 329.86,168.18 331.60,167.47 333.35,166.72 335.10,165.91 336.85,165.06 338.60,164.16 340.34,163.21 342.09,162.21 343.84,161.18 345.59,160.10 347.33,158.97 349.08,157.81 350.83,156.61 352.58,155.36 354.32,154.08 356.07,152.76 357.82,151.41 359.57,150.02 361.32,148.59 363.06,147.13 364.81,145.64 366.56,144.11 368.31,142.56 370.05,140.98 371.80,139.36 373.55,137.72 375.30,136.06 377.04,134.36 378.79,132.64 380.54,130.90 382.29,129.14 384.04,127.35 385.78,125.54 387.53,123.72 389.28,121.87 391.03,120.00 392.77,118.12 394.52,116.22 396.27,114.31 398.02,112.38 399.77,110.44 401.51,108.49 403.26,106.52 405.01,104.55 406.76,102.56 408.50,100.57 410.25,98.57 412.00,96.56 413.75,94.55 415.49,92.53 417.24,90.51 418.99,88.49 420.74,86.47 422.49,84.44 424.23,82.42" fill="none" stroke="#008000" stroke-width="0.5"/>
<polyline points="321.12,164.77 322.87,164.57 324.61,164.31 326.36,163.99 328.11,163.60 329.86,163.16 331.60,162.65 333.35,162.09 335.10,161.47 336.85,160.79 338.60,160.06 340.34,159.28 342.09,158.45 343.84,157.57 345.59,156.63 347.33,155.65 349.08,154.63 350.83,153.56 352.58,152.44 354.32,151.29 356.07,150.09 357.82,148.85 359.57,147.58 361.32,146.27 363.06,144.92 364.81,143.54 366.56,142.12 368.31,140.67 370.05,139.19 371.80,137.69 373.55,136.15 375.30,134.59 377.04,133.00 378.79,131.39 380.54,129.76 382.29,128.10 384.04,126.42 385.78,124.73 387.53,123.02 389.28,121.29 391.03,119.55 392.77,117.79 394.52,116.02 396.27,114.24 398.02,112.45 399.77,110.65 401.51,108.84 403.26,107.03 405.01,105.22 406.76,103.40 408.50,101.58 410.25,99.75 412.00,97.93 413.75,96.11 415.49,94.30 417.24,92.48 418.99,90.68 420.74,88.88 422.49,87.09 424.23,85.31" fill="none" stroke="#8b0000" stroke-width="0.5"/>
<polyline points="321.12,162.89 322.87,162.52 324.61,162.08 326.36,161.59 328.11,161.04 329.86,160.42 331.60,159.76 333.35,159.03 335.10,158.25 336.85,157.42 338.60,156.54 340.34,155.60 342.09,154.62 343.84,153.59 345.59,152.52 347.33,151.40 349.08,150.23 350.83,149.03 352.58,147.78 354.32,146.49 356.07,145.17 357.82,143.81 359.57,142.41 361.32,140.98 363.06,139.51 364.81,138.02 366.56,136.49 368.31,134.94 370.05,133.36 371.80,131.75 373.55,130.12 375.30,128.46 377.04,126.78 378.79,125.09 380.54,123.37 382.29,121.63 384.04,119.88 385.78,118.11 387.53,116.33 389.28,114.54 391.03,112.73 392.77,110.92 394.52,109.09 396.27,107.26 398.02,105.43 399.77,103.59 401.51,101.74 403.26,99.89 405.01,98.05 406.76,96.20 408.50,94.36 410.25,92.52 412.00,90.68 413.75,88.85 415.49,87.03 417.24,85.22 418.99,83.42 420.74,81.63 422.49,79.85 424.23,78.09" fill="none" stroke="#0000ff" stroke-width="0.5"/>
<rect x="319.87" y="173.36" width="2.5" height="2.5" fill="#e00000"/>
<rect x="337.05" y="166.66" width="2.5" height="2.5" fill="#e00000"/>
<rect x="354.24" y="152.96" width="2.5" height="2.5" fill="#e00000"/>
<rect x="371.43" y="137.07" width="2.5" height="2.5" fill="#e00000"/>
<rect x="388.61" y="119.49" width="2.5" height="2.5" fill="#e00000"/>
<rect x="405.80" y="103.02" width="2.5" height="2.5" fill="#e00000"/>
<rect x="422.98" y="84.96" width="2.5" height="2.5" fill="#e00000"/>
<rect x="319.87" y="169.83" width="2.5" height="2.5" fill="#006000"/>
<rect x="337.05" y="161.92" width="2.5" height="2.5" fill="#006000"/>
<rect x="354.24" y="151.90" width="2.5" height="2.5" fill="#006000"/>
<rect x="371.43" y="135.35" width="2.5" height="2.5" fill="#006000"/>
<rect x="388.61" y="119.22" width="2.5" height="2.5" fill="#006000"/>
<rect x="405.80" y="99.72" width="2.5" height="2.5" fill="#006000"/>
<rect x="422.98" y="81.54" width="2.5" height="2.5" fill="#006000"/>
<rect x="319.87" y="163.50" width="2.5" height="2.5" fill="#800000"/>
<rect x="337.05" y="158.23" width="2.5" height="2.5" fill="#800000"/>
<rect x="354.24" y="148.58" width="2.5" height="2.5" fill="#800000"/>
<rect x="371.43" y="133.56" width="2.5" height="2.5" fill="#800000"/>
<rect x="388.61" y="118.96" width="2.5" height="2.5" fill="#800000"/>
<rect x="405.80" y="101.30" width="2.5" height="2.5" fill="#800000"/>
<rect x="422.98" y="84.17" width="2.5" height="2.5" fill="#800000"/>
<rect x="319.87" y="161.13" width="2.5" height="2.5" fill="#0000e8"/>
<rect x="337.05" y="155.07" width="2.5" height="2.5" fill="#0000e8"/>
<rect x="354.24" y="142.42" width="2.5" height="2.5" fill="#0000e8"/>
<rect x="371.43" y="128.37" width="2.5" height="2.5" fill="#0000e8"/>
<rect x="388.61" y="112.90" width="2.5" height="2.5" fill="#0000e8"/>
<rect x="405.80" y="94.45" width="2.5" height="2.5" fill="#0000e8"/>
<rect x="422.98" y="76.79" width="2.5" height="2.5" fill="#0000e8"/>
<rect x="319.40" y="64.60" width="120.30" height="118.60" fill="none" stroke="#8a8a8a" stroke-width="1.2"/>
<line x1="319.40" y1="183.20" x2="319.40" y2="181.20" stroke="#777" stroke-width="0.8"/>
<line x1="319.40" y1="64.60" x2="319.40" y2="66.60" stroke="#777" stroke-width="0.8"/>
<text x="319.40" y="189.40" font-family="DejaVu Sans, Liberation Sans, sans-serif" font-size="5.2" text-anchor="middle" fill="#222" stroke="#222" stroke-width="0.09" >0</text>
<line x1="336.59" y1="183.20" x2="336.59" y2="181.20" stroke="#777" stroke-width="0.8"/>
<line x1="336.59" y1="64.60" x2="336.59" y2="66.60" stroke="#777" stroke-width="0.8"/>
<text x="336.59" y="189.40" font-family="DejaVu Sans, Liberation Sans, sans-serif" font-size="5.2" text-anchor="middle" fill="#222" stroke="#222" stroke-width="0.09" >100</text>
<line x1="353.77" y1="183.20" x2="353.77" y2="181.20" stroke="#777" stroke-width="0.8"/>
<line x1="353.77" y1="64.60" x2="353.77" y2="66.60" stroke="#777" stroke-width="0.8"/>
<text x="353.77" y="189.40" font-family="DejaVu Sans, Liberation Sans, sans-serif" font-size="5.2" text-anchor="middle" fill="#222" stroke="#222" stroke-width="0.09" >200</text>
<line x1="370.96" y1="183.20" x2="370.96" y2="181.20" stroke="#777" stroke-width="0.8"/>
<line x1="370.96" y1="64.60" x2="370.96" y2="66.60" stroke="#777" stroke-width="0.8"/>
<text x="370.96" y="189.40" font-family="DejaVu Sans, Liberation Sans, sans-serif" font-size="5.2" text-anchor="middle" fill="#222" stroke="#222" stroke-width="0.09" >300</text>
<line x1="388.14" y1="183.20" x2="388.14" y2="181.20" stroke="#777" stroke-width="0.8"/>
<line x1="388.14" y1="64.60" x2="388.14" y2="66.60" stroke="#777" stroke-width="0.8"/>
<text x="388.14" y="189.40" font-family="DejaVu Sans, Liberation Sans, sans-serif" font-size="5.2" text-anchor="middle" fill="#222" stroke="#222" stroke-width="0.09" >400</text>
<line x1="405.33" y1="183.20" x2="405.33" y2="181.20" stroke="#777" stroke-width="0.8"/>
<line x1="405.33" y1="64.60" x2="405.33" y2="66.60" stroke="#777" stroke-width="0.8"/>
<text x="405.33" y="189.40" font-family="DejaVu Sans, Liberation Sans, sans-serif" font-size="5.2" text-anchor="middle" fill="#222" stroke="#222" stroke-width="0.09" >500</text>
<line x1="422.51" y1="183.20" x2="422.51" y2="181.20" stroke="#777" stroke-width="0.8"/>
<line x1="422.51" y1="64.60" x2="422.51" y2="66.60" stroke="#777" stroke-width="0.8"/>
<text x="422.51" y="189.40" font-family="DejaVu Sans, Liberation Sans, sans-serif" font-size="5.2" text-anchor="middle" fill="#222" stroke="#222" stroke-width="0.09" >600</text>
<line x1="439.70" y1="183.20" x2="439.70" y2="181.20" stroke="#777" stroke-width="0.8"/>
<line x1="439.70" y1="64.60" x2="439.70" y2="66.60" stroke="#777" stroke-width="0.8"/>
<text x="439.70" y="189.40" font-family="DejaVu Sans, Liberation Sans, sans-serif" font-size="5.2" text-anchor="middle" fill="#222" stroke="#222" stroke-width="0.09" >700</text>
<line x1="319.40" y1="183.20" x2="321.40" y2="183.20" stroke="#777" stroke-width="0.8"/>
<line x1="439.70" y1="183.20" x2="437.70" y2="183.20" stroke="#777" stroke-width="0.8"/>
<text x="318.00" y="184.95" font-family="DejaVu Sans, Liberation Sans, sans-serif" font-size="5.2" text-anchor="end" fill="#222" stroke="#222" stroke-width="0.09" >50</text>
<line x1="319.40" y1="170.02" x2="321.40" y2="170.02" stroke="#777" stroke-width="0.8"/>
<line x1="439.70" y1="170.02" x2="437.70" y2="170.02" stroke="#777" stroke-width="0.8"/>
<text x="318.00" y="171.77" font-family="DejaVu Sans, Liberation Sans, sans-serif" font-size="5.2" text-anchor="end" fill="#222" stroke="#222" stroke-width="0.09" >100</text>
<line x1="319.40" y1="156.84" x2="321.40" y2="156.84" stroke="#777" stroke-width="0.8"/>
<line x1="439.70" y1="156.84" x2="437.70" y2="156.84" stroke="#777" stroke-width="0.8"/>
<text x="318.00" y="158.59" font-family="DejaVu Sans, Liberation Sans, sans-serif" font-size="5.2" text-anchor="end" fill="#222" stroke="#222" stroke-width="0.09" >150</text>
<line x1="319.40" y1="143.67" x2="321.40" y2="143.67" stroke="#777" stroke-width="0.8"/>
<line x1="439.70" y1="143.67" x2="437.70" y2="143.67" stroke="#777" stroke-width="0.8"/>
<text x="318.00" y="145.42" font-family="DejaVu Sans, Liberation Sans, sans-serif" font-size="5.2" text-anchor="end" fill="#222" stroke="#222" stroke-width="0.09" >200</text>
<line x1="319.40" y1="130.49" x2="321.40" y2="130.49" stroke="#777" stroke-width="0.8"/>
<line x1="439.70" y1="130.49" x2="437.70" y2="130.49" stroke="#777" stroke-width="0.8"/>
<text x="318.00" y="132.24" font-family="DejaVu Sans, Liberation Sans, sans-serif" font-size="5.2" text-anchor="end" fill="#222" stroke="#222" stroke-width="0.09" >250</text>
<line x1="319.40" y1="117.31" x2="321.40" y2="117.31" stroke="#777" stroke-width="0.8"/>
<line x1="439.70" y1="117.31" x2="437.70" y2="117.31" stroke="#777" stroke-width="0.8"/>
<text x="318.00" y="119.06" font-family="DejaVu Sans, Liberation Sans, sans-serif" font-size="5.2" text-anchor="end" fill="#222" stroke="#222" stroke-width="0.09" >300</text>
<line x1="319.40" y1="104.13" x2="321.40" y2="104.13" stroke="#777" stroke-width="0.8"/>
<line x1="439.70" y1="104.13" x2="437.70" y2="104.13" stroke="#777" stroke-width="0.8"/>
<text x="318.00" y="105.88" font-family="DejaVu Sans, Liberation Sans, sans-serif" font-size="5.2" text-anchor="end" fill="#222" stroke="#222" stroke-width="0.09" >350</text>
<line x1="319.40" y1="90.96" x2="321.40" y2="90.96" stroke="#777" stroke-width="0.8"/>
<line x1="439.70" y1="90.96" x2="437.70" y2="90.96" stroke="#777" stroke-width="0.8"/>
<text x="318.00" y="92.71" font-family="DejaVu Sans, Liberation Sans, sans-serif" font-size="5.2" text-anchor="end" fill="#222" stroke="#222" stroke-width="0.09" >400</text>
<line x1="319.40" y1="77.78" x2="321.40" y2="77.78" stroke="#777" stroke-width="0.8"/>
<line x1="439.70" y1="77.78" x2="437.70" y2="77.78" stroke="#777" stroke-width="0.8"/>
<text x="318.00" y="79.53" font-family="DejaVu Sans, Liberation Sans, sans-serif" font-size="5.2" text-anchor="end" fill="#222" stroke="#222" stroke-width="0.09" >450</text>
<line x1="319.40" y1="64.60" x2="321.40" y2="64.60" stroke="#777" stroke-width="0.8"/>
<line x1="439.70" y1="64.60" x2="437.70" y2="64.60" stroke="#777" stroke-width="0.8"/>
<text x="318.00" y="66.35" font-family="DejaVu Sans, Liberation Sans, sans-serif" font-size="5.2" text-anchor="end" fill="#222" stroke="#222" stroke-width="0.09" >500</text>
<text x="333.50" y="62.40" font-family="DejaVu Sans, Liberation Sans, sans-serif" font-size="6.15" text-anchor="start" fill="#222" stroke="#222" stroke-width="0.09" >RADEN Config-3 LiF 50-300</text>
<text x="416.70" y="62.30" font-family="DejaVu Sans, Liberation Sans, sans-serif" font-size="3.9" text-anchor="start" fill="#222" stroke="#222" stroke-width="0.09" textLength="8.4" lengthAdjust="spacingAndGlyphs">μm</text>
<text x="346.40" y="196.00" font-family="DejaVu Sans, Liberation Sans, sans-serif" font-size="5.0" text-anchor="start" fill="#222" stroke="#222" stroke-width="0.09" >Distance to detector (</text>
<text x="401.30" y="196.00" font-family="DejaVu Sans, Liberation Sans, sans-serif" font-size="3.6" text-anchor="start" fill="#222" stroke="#222" stroke-width="0.09" textLength="8.9" lengthAdjust="spacingAndGlyphs">mm</text>
<text x="410.30" y="196.00" font-family="DejaVu Sans, Liberation Sans, sans-serif" font-size="5.0" text-anchor="start" fill="#222" stroke="#222" stroke-width="0.09" >)</text>
<g transform="translate(305.20,0) rotate(-90)">
<text x="-144.00" y="0.00" font-family="DejaVu Sans, Liberation Sans, sans-serif" font-size="5" text-anchor="start" fill="#222" stroke="#222" stroke-width="0.09" >Resolution (</text>
<text x="-114.00" y="0.00" font-family="DejaVu Sans, Liberation Sans, sans-serif" font-size="4.6" text-anchor="start" fill="#222" stroke="#222" stroke-width="0.09" textLength="7.6" lengthAdjust="spacingAndGlyphs">μm</text>
<text x="-106.40" y="0.00" font-family="DejaVu Sans, Liberation Sans, sans-serif" font-size="5" text-anchor="start" fill="#222" stroke="#222" stroke-width="0.09" >)</text>
</g>
<rect x="322.50" y="67.20" width="53.20" height="39.00" fill="#fff" stroke="#8a8a8a" stroke-width="0.9"/>
<line x1="326.50" y1="72.60" x2="335.30" y2="72.60" stroke="#ff0000" stroke-width="0.38"/>
<text x="341.60" y="74.60" font-family="DejaVu Sans, Liberation Sans, sans-serif" font-size="6.2" text-anchor="start" fill="#222" stroke="#222" stroke-width="0.09" >LiF-50</text>
<text x="360.30" y="74.60" font-family="DejaVu Sans, Liberation Sans, sans-serif" font-size="3.9" text-anchor="start" fill="#222" stroke="#222" stroke-width="0.09" textLength="8.7" lengthAdjust="spacingAndGlyphs">μm</text>
<line x1="326.50" y1="81.80" x2="335.30" y2="81.80" stroke="#008000" stroke-width="0.38"/>
<text x="341.60" y="83.80" font-family="DejaVu Sans, Liberation Sans, sans-serif" font-size="6.2" text-anchor="start" fill="#222" stroke="#222" stroke-width="0.09" >LiF-100</text>
<text x="364.20" y="83.80" font-family="DejaVu Sans, Liberation Sans, sans-serif" font-size="3.9" text-anchor="start" fill="#222" stroke="#222" stroke-width="0.09" textLength="8.7" lengthAdjust="spacingAndGlyphs">μm</text>
<line x1="326.50" y1="91.00" x2="335.30" y2="91.00" stroke="#8b0000" stroke-width="0.38"/>
<text x="341.60" y="93.00" font-family="DejaVu Sans, Liberation Sans, sans-serif" font-size="6.2" text-anchor="start" fill="#222" stroke="#222" stroke-width="0.09" >LiF-200</text>
<text x="364.20" y="93.00" font-family="DejaVu Sans, Liberation Sans, sans-serif" font-size="3.9" text-anchor="start" fill="#222" stroke="#222" stroke-width="0.09" textLength="8.7" lengthAdjust="spacingAndGlyphs">μm</text>
<line x1="326.50" y1="100.20" x2="335.30" y2="100.20" stroke="#0000ff" stroke-width="0.38"/>
<text x="341.60" y="102.20" font-family="DejaVu Sans, Liberation Sans, sans-serif" font-size="6.2" text-anchor="start" fill="#222" stroke="#222" stroke-width="0.09" >LiF-300</text>
<text x="364.20" y="102.20" font-family="DejaVu Sans, Liberation Sans, sans-serif" font-size="3.9" text-anchor="start" fill="#222" stroke="#222" stroke-width="0.09" textLength="8.7" lengthAdjust="spacingAndGlyphs">μm</text>
</g>
</svg>
</body></html>
